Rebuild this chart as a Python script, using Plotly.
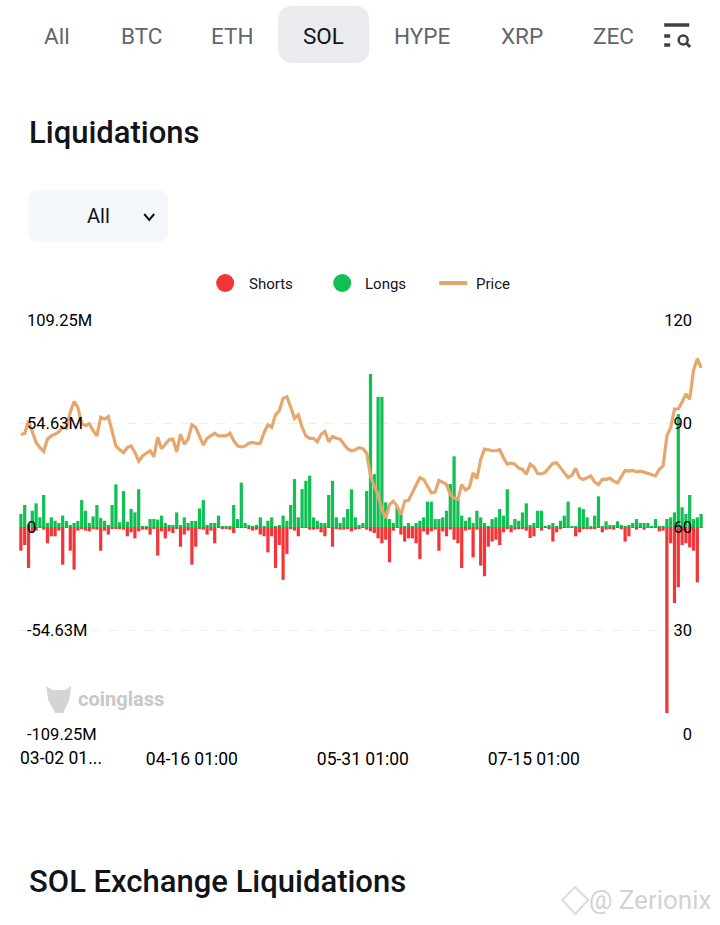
import pandas as pd
import plotly.graph_objects as go

WIDTH = 720
HEIGHT = 925
PLOT_LEFT = 18.8
PLOT_RIGHT = 702.8
PLOT_TOP = 320
PLOT_BOTTOM = 734

FONT = "Roboto"

TIMES = pd.date_range("2025-03-02 01:00", periods=180, freq="D").strftime("%m-%d %H:%M").tolist()

# liquidations, in millions
LONGS = [
    6.9, 11.6, 1.4, 8.6, 12.5, 5.1, 16.9, 2.1, 5.1, 3.3,
    2.1, 6.0, 3.2, 0.7, 2.1, 3.2, 14.2, 8.6, 2.1, 5.6,
    11.6, 4.7, 3.3, 0.7, 11.6, 22.5, 2.5, 19.0, 2.8, 9.5,
    7.7, 19.9, 0.4, 0.4, 4.2, 4.2, 3.9, 6.0, 2.1, 1.1,
    1.1, 7.7, 0.7, 5.1, 2.1, 3.2, 3.2, 9.8, 14.2, 0.7,
    2.1, 2.1, 6.0, 0.4, 0.4, 0.4, 11.6, 4.2, 23.4, 2.1,
    1.1, 0.4, 1.1, 5.1, 0.4, 3.3, 5.1, 0.4, 0.7, 6.0,
    3.3, 11.6, 25.3, 5.1, 20.0, 24.4, 27.1, 5.1, 3.3, 2.1,
    2.1, 16.9, 24.4, 5.1, 2.1, 5.1, 9.5, 19.9, 5.1, 0.7,
    2.1, 19.0, 80.7, 27.9, 68.7, 68.7, 13.0, 4.2, 2.1, 10.4,
    7.7, 0.4, 2.1, 0.4, 2.1, 3.3, 5.1, 13.4, 13.4, 4.2,
    4.2, 5.1, 8.6, 22.7, 37.3, 14.8, 6.0, 3.3, 5.1, 2.1,
    8.6, 5.1, 2.1, 0.4, 4.2, 5.1, 9.5, 6.0, 19.9, 1.1,
    4.2, 3.3, 7.7, 12.5, 0.7, 2.1, 8.6, 8.6, 0.4, 1.1,
    2.1, 0.4, 3.3, 6.0, 13.4, 0.4, 0.4, 10.4, 9.5, 5.1,
    0.4, 6.0, 16.2, 0.4, 3.0, 1.1, 0.7, 3.0, 1.1, 0.4,
    1.1, 2.1, 4.2, 2.1, 2.1, 2.1, 0.4, 4.2, 0.4, 0.4,
    4.2, 5.1, 7.7, 59.6, 10.4, 6.9, 16.9, 4.2, 5.1, 6.9,
]

SHORTS = [
    -12.5, -9.5, -21.6, -2.8, -1.9, -0.4, -1.4, -8.6, -4.9, -4.9,
    -1.9, -19.9, -0.4, -12.5, -22.5, -1.9, -1.1, -1.9, -2.3, -1.1,
    -1.4, -12.5, -1.9, -4.0, -0.7, -0.7, -1.1, -1.4, -4.9, -2.8,
    -6.0, -2.3, -1.4, -1.4, -4.0, -0.7, -15.1, -2.3, -6.0, -2.3,
    -3.2, -0.7, -10.4, -4.0, -1.9, -19.9, -10.4, -0.7, -1.4, -4.0,
    -1.9, -8.6, -0.4, -1.1, -0.7, -1.4, -3.2, -0.4, -0.4, -0.4,
    -1.1, -1.9, -1.4, -4.0, -4.9, -13.4, -4.9, -21.6, -9.5, -27.9,
    -14.2, -1.1, -1.9, -4.9, -0.4, -0.4, -1.4, -1.4, -1.1, -2.8,
    -4.9, -0.4, -10.4, -1.1, -1.4, -1.4, -0.7, -2.3, -1.4, -0.7,
    -0.4, -1.4, -2.3, -3.2, -6.0, -8.6, -6.7, -18.6, -1.9, -0.4,
    -4.0, -7.7, -6.0, -6.0, -8.6, -16.9, -2.3, -4.0, -2.3, -1.4,
    -12.5, -2.3, -4.9, -1.4, -6.7, -8.6, -21.6, -1.9, -1.4, -16.0,
    -1.4, -20.4, -26.0, -10.4, -7.7, -6.7, -9.5, -2.8, -1.1, -2.8,
    -1.4, -1.1, -1.1, -1.9, -5.8, -4.9, -0.4, -1.9, -0.4, -1.1,
    -7.7, -2.8, -1.1, -0.4, -0.4, -0.4, -4.9, -2.8, -1.1, -1.1,
    -1.1, -1.1, -0.4, -2.8, -1.4, -1.1, -1.4, -0.4, -1.1, -7.7,
    -4.9, -0.4, -1.4, -0.4, -1.4, -0.4, -0.4, -0.4, -2.3, -1.9,
    -98.2, -8.6, -40.1, -31.8, -9.5, -8.6, -10.7, -12.5, -29.2, -0.4,
]

PRICE = [
    86.8, 87.1, 90.8, 87.4, 84.5, 83.0, 81.9, 85.5, 86.4, 86.9,
    87.6, 88.9, 88.6, 93.3, 96.4, 94.7, 89.9, 89.4, 89.9, 87.9,
    86.4, 91.8, 91.3, 92.0, 87.9, 83.5, 82.4, 81.6, 83.0, 83.5,
    81.6, 79.1, 80.6, 81.4, 82.1, 80.4, 86.0, 82.7, 84.0, 85.3,
    85.5, 81.8, 86.9, 84.0, 85.5, 89.6, 88.9, 86.0, 83.7, 85.7,
    86.6, 87.2, 86.4, 86.4, 86.4, 87.2, 85.0, 83.5, 83.2, 83.5,
    84.3, 84.5, 84.2, 84.3, 87.4, 89.6, 88.9, 92.5, 93.7, 97.3,
    97.8, 94.7, 91.5, 92.5, 88.9, 86.4, 85.7, 85.7, 84.7, 86.9,
    87.7, 84.7, 86.2, 85.7, 85.5, 84.0, 82.6, 82.1, 82.4, 83.0,
    82.7, 81.4, 74.8, 71.8, 69.4, 65.0, 62.6, 66.5, 67.5, 66.0,
    63.6, 67.5, 67.7, 69.9, 72.3, 74.3, 73.8, 71.8, 69.9, 70.1,
    73.5, 73.0, 72.3, 69.4, 68.4, 68.0, 72.3, 70.7, 71.4, 75.7,
    74.0, 79.6, 82.6, 82.4, 82.1, 82.1, 82.4, 80.1, 78.2, 78.5,
    78.2, 77.1, 76.7, 75.3, 78.2, 77.4, 75.5, 75.4, 75.9, 77.2,
    78.5, 78.6, 77.2, 75.5, 74.3, 75.0, 77.0, 74.3, 73.8, 74.3,
    74.8, 73.0, 72.3, 73.8, 73.8, 74.1, 73.3, 72.8, 74.8, 76.4,
    76.2, 76.4, 76.0, 76.2, 75.9, 75.5, 75.2, 74.8, 76.7, 77.7,
    86.4, 88.9, 94.2, 94.2, 96.2, 98.6, 97.0, 105.4, 108.8, 106.1,
]

LEFT_TICKS = [109.25, 54.63, 0, -54.63, -109.25]
LEFT_LABELS = ["109.25M", "54.63M", "0", "-54.63M", "-109.25M"]
RIGHT_TICKS = [120, 90, 60, 30, 0]
DATE_TICKS = [45, 90, 135]
DATE_LABELS = ["04-16 01:00", "05-31 01:00", "07-15 01:00"]

TABS = [("All", 57), ("BTC", 141), ("ETH", 232), ("SOL", 323), ("HYPE", 422), ("XRP", 522), ("ZEC", 613)]

COLORS = {"short": "#f23539", "long": "#10c052", "price": "#e6a76c", "tab": "#5f6670", "ink": "#111418"}


def px(x):
    return (x - PLOT_LEFT) / (PLOT_RIGHT - PLOT_LEFT)


def py(y):
    return (PLOT_BOTTOM - y) / (PLOT_BOTTOM - PLOT_TOP)


def label(text, x, y, size, color=COLORS["ink"], anchor="left", weight=400):
    fig.add_annotation(
        text=text, x=px(x), y=py(y), xref="paper", yref="paper",
        showarrow=False, xanchor=anchor, yanchor="middle", align=anchor,
        font=dict(family=FONT, size=size, color=color, weight=weight),
    )


def round_box(x0, y0, x1, y1, r, fill):
    path = (
        f"M {px(x0 + r)} {py(y0)} L {px(x1 - r)} {py(y0)} Q {px(x1)} {py(y0)} {px(x1)} {py(y0 + r)} "
        f"L {px(x1)} {py(y1 - r)} Q {px(x1)} {py(y1)} {px(x1 - r)} {py(y1)} "
        f"L {px(x0 + r)} {py(y1)} Q {px(x0)} {py(y1)} {px(x0)} {py(y1 - r)} "
        f"L {px(x0)} {py(y0 + r)} Q {px(x0)} {py(y0)} {px(x0 + r)} {py(y0)} Z"
    )
    fig.add_shape(type="path", path=path, xref="paper", yref="paper", fillcolor=fill, line_width=0, layer="below")


def stroke(points, color, width):
    path = "M " + " L ".join(f"{px(x)} {py(y)}" for x, y in points)
    fig.add_shape(type="path", path=path, xref="paper", yref="paper", line=dict(color=color, width=width))


def dot(x, y, r, color, line=None):
    fig.add_shape(
        type="circle", xref="paper", yref="paper",
        x0=px(x - r), x1=px(x + r), y0=py(y + r), y1=py(y - r),
        fillcolor=color if line is None else "rgba(0,0,0,0)",
        line=dict(color=line or color, width=0 if line is None else 2.5),
    )


fig = go.Figure()

fig.add_trace(go.Bar(x=TIMES, y=SHORTS, name="Shorts", marker_color=COLORS["short"], marker_line_width=0))
fig.add_trace(go.Bar(x=TIMES, y=LONGS, name="Longs", marker_color=COLORS["long"], marker_line_width=0))
fig.add_trace(
    go.Scatter(
        x=TIMES, y=PRICE, name="Price", mode="lines", yaxis="y2",
        line=dict(color=COLORS["price"], width=3.2),
    )
)

fig.update_layout(
    width=WIDTH,
    height=HEIGHT,
    margin=dict(l=PLOT_LEFT, r=WIDTH - PLOT_RIGHT, t=PLOT_TOP, b=HEIGHT - PLOT_BOTTOM, pad=0),
    paper_bgcolor="white",
    plot_bgcolor="white",
    showlegend=False,
    barmode="relative",
    bargap=0.15,
    font=dict(family=FONT, color=COLORS["ink"]),
    xaxis=dict(
        type="category",
        range=[-0.5, 179.5],
        tickmode="array",
        tickvals=[TIMES[i] for i in DATE_TICKS],
        ticktext=DATE_LABELS,
        tickangle=0,
        tickfont=dict(size=17.5, color="#000000"),
        ticks="outside",
        ticklen=9,
        tickcolor="rgba(0,0,0,0)",
        showgrid=False,
        showline=False,
    ),
    yaxis=dict(
        range=[-109.25, 109.25],
        tickmode="array",
        tickvals=LEFT_TICKS,
        ticktext=LEFT_LABELS,
        ticklabelposition="inside",
        ticklabeloverflow="allow",
        ticklabelstandoff=5,
        tickfont=dict(size=16.5, color="#000000"),
        gridcolor="#eeeeee",
        griddash="dash",
        zeroline=False,
        showline=False,
    ),
    yaxis2=dict(
        range=[0, 120],
        overlaying="y",
        side="right",
        tickmode="array",
        tickvals=RIGHT_TICKS,
        ticklabelposition="inside",
        ticklabeloverflow="allow",
        ticklabelstandoff=8,
        tickfont=dict(size=16.5, color="#000000"),
        showgrid=False,
        zeroline=False,
        showline=False,
    ),
)

# tab row
round_box(278, 6, 369, 63, 15, "#e9ebef")
for name, center in TABS:
    label(name, center, 36, 22.5, COLORS["ink"] if name == "SOL" else COLORS["tab"], "center")
stroke([(664, 25), (689, 25)], "#3c4148", 3.5)
stroke([(664, 36), (670, 36)], "#3c4148", 3.5)
stroke([(664, 45), (670, 45)], "#3c4148", 3.5)
dot(683, 40, 4.5, "#3c4148", line="#3c4148")
stroke([(686, 43), (690, 47)], "#3c4148", 3)

label("Liquidations", 27, 132, 31, weight=500)

# filter dropdown
round_box(28, 190, 168, 242, 10, "#f4f7fb")
label("All", 98, 216, 20, anchor="center")
stroke([(144, 214), (149, 220), (154, 214)], COLORS["ink"], 2)

# legend
dot(225, 283, 9, COLORS["short"])
label("Shorts", 247, 284, 15)
dot(342, 283, 9, COLORS["long"])
label("Longs", 363, 284, 15)
stroke([(439, 283), (467, 283)], COLORS["price"], 4)
label("Price", 474, 284, 15)

# first date label is cut short at the chart edge
label("03-02 01...", 18, 758, 17.5, "#000000")

# coinglass mark
fig.add_shape(
    type="path", xref="paper", yref="paper", fillcolor="#d4d4d4", line_width=0, layer="below",
    path=(
        f"M {px(46)} {py(686)} L {px(52)} {py(690)} L {px(65)} {py(690)} L {px(71)} {py(686)} "
        f"L {px(69)} {py(700)} L {px(63)} {py(713)} L {px(55)} {py(713)} L {px(48)} {py(700)} Z"
    ),
)
label("coinglass", 76, 699, 20, "#c8c8c8", weight=700)

label("SOL Exchange Liquidations", 27, 881, 31, weight=500)

# image watermark
label("@ Zerionix", 714, 900, 26, "#d2d2d2", "right")
fig.add_shape(
    type="path", xref="paper", yref="paper", line=dict(color="#dcdcdc", width=2),
    path=(
        f"M {px(575)} {py(887)} L {px(588)} {py(900)} L {px(575)} {py(914)} "
        f"L {px(562)} {py(900)} Z"
    ),
)

fig.write_html(
    "out.html",
    config={"displayModeBar": False},
    post_script="document.body.style.margin='0';document.body.style.overflow='hidden';",
)
